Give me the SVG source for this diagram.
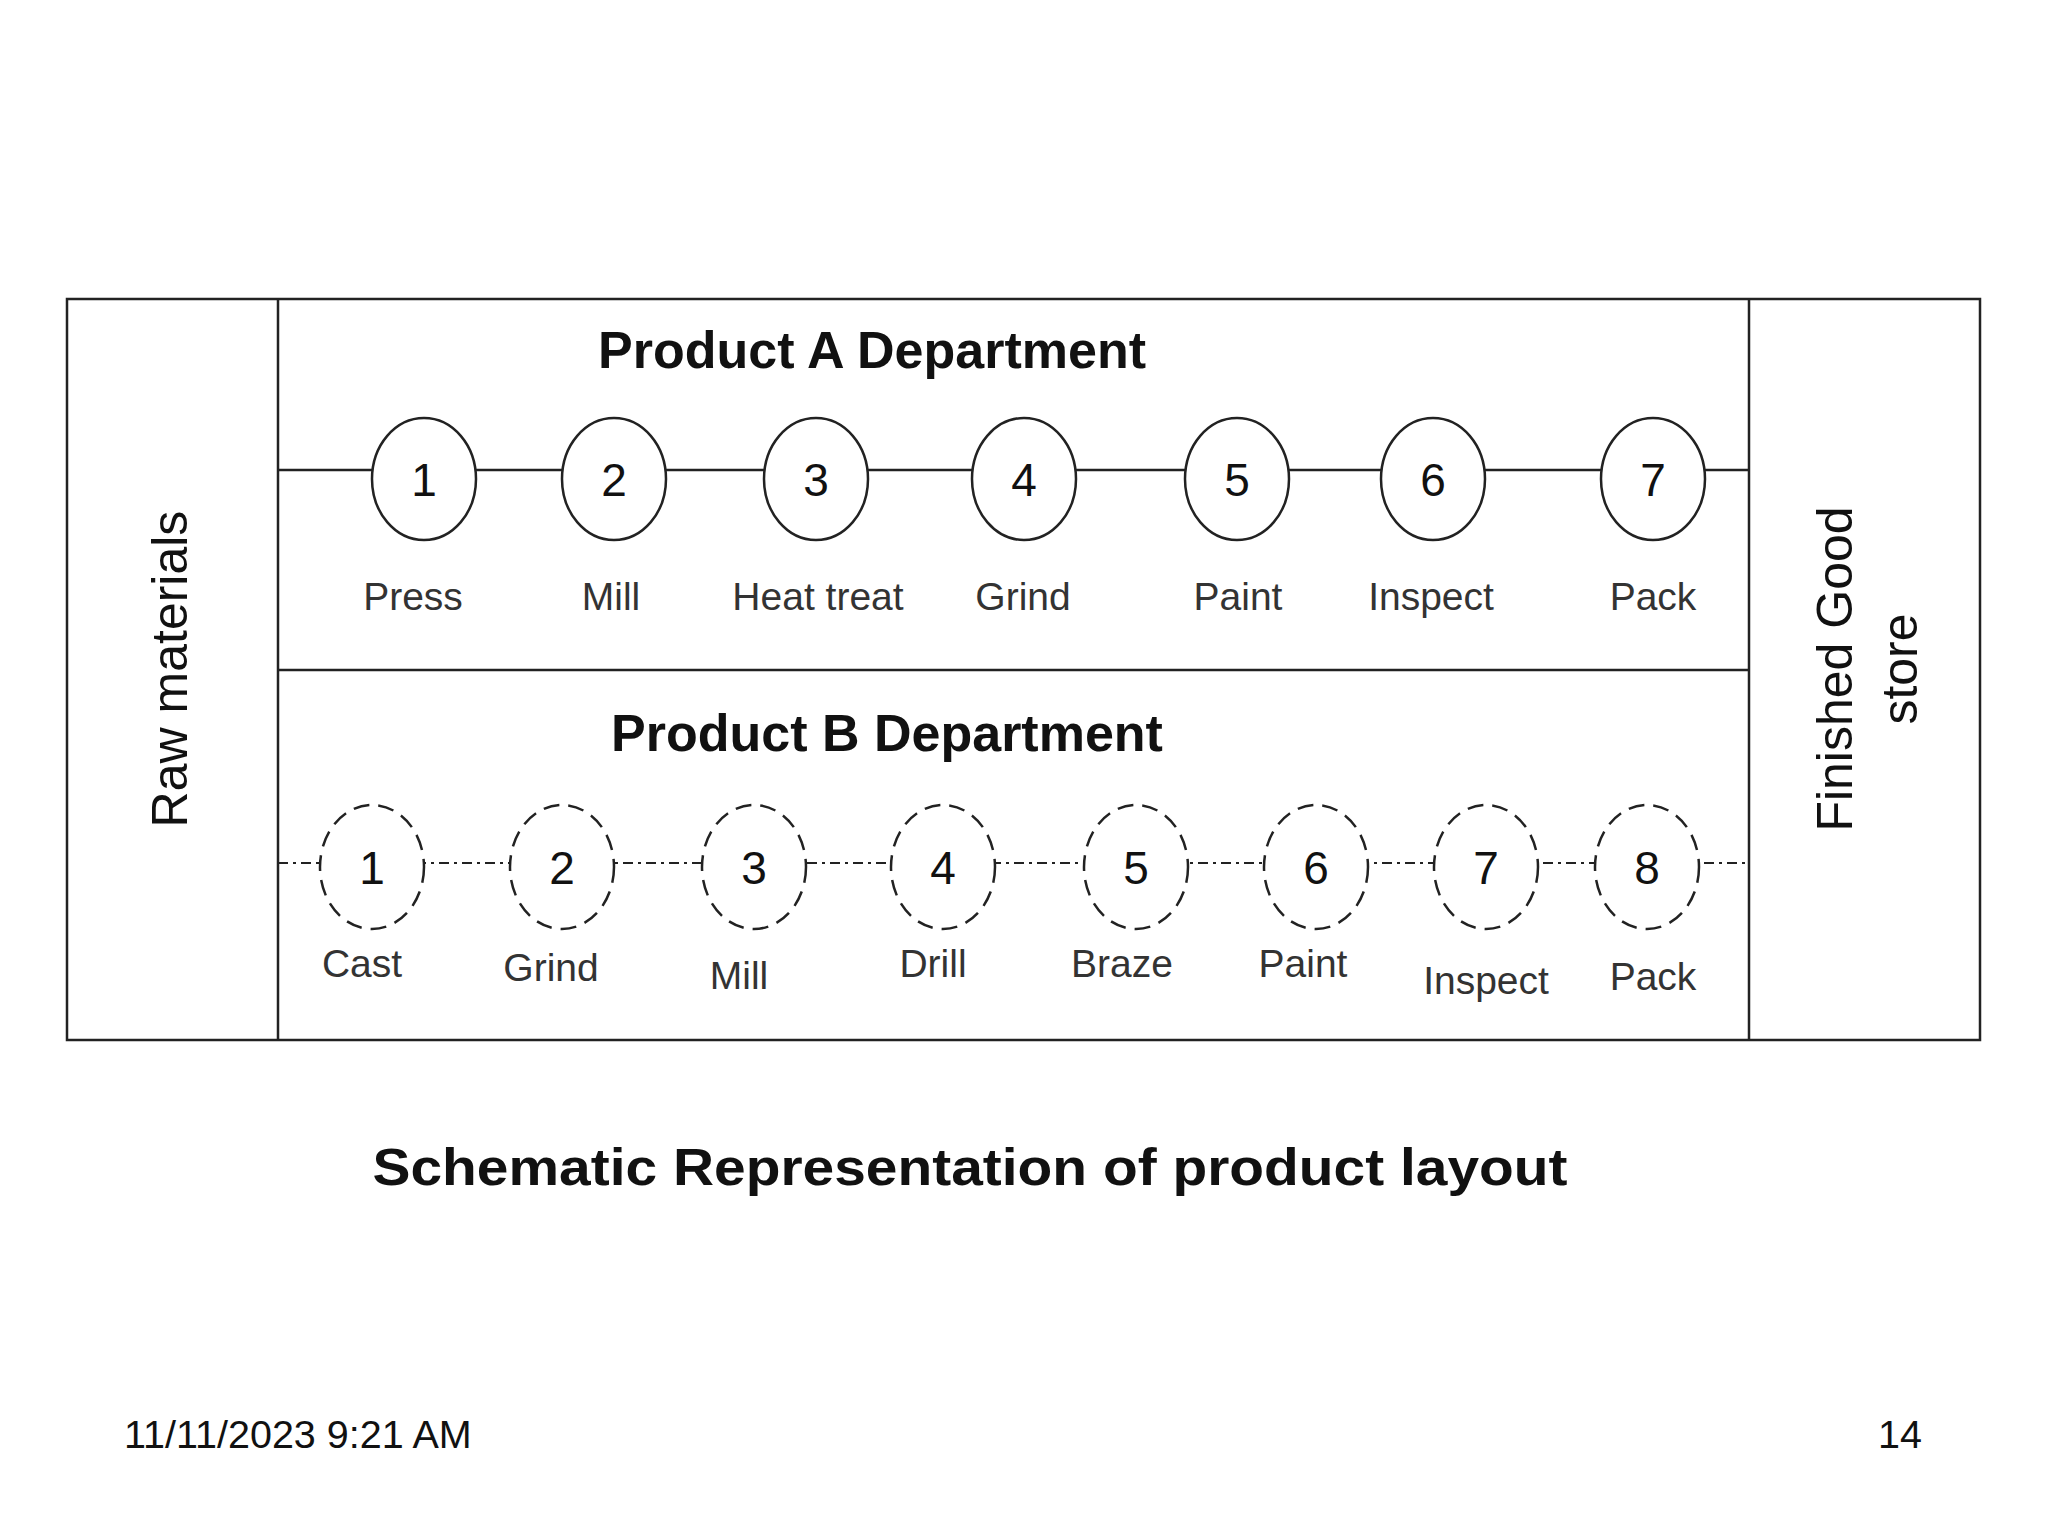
<svg xmlns="http://www.w3.org/2000/svg" width="2048" height="1536" viewBox="0 0 2048 1536">
<style>
text{font-family:"Liberation Sans",Arial,sans-serif;fill:#111}
.t{font-size:52px;font-weight:bold;text-anchor:middle}
.n{font-size:46px;text-anchor:middle}
.r{font-size:50px;text-anchor:middle}
.l{font-size:39px;text-anchor:middle;fill:#333}
.s{fill:#fff;stroke:#222;stroke-width:2.5}
.d{fill:#fff;stroke:#222;stroke-width:2.5;stroke-dasharray:16 9}
.line{stroke:#222;stroke-width:2.5;fill:none}
.dl{stroke:#222;stroke-width:2;fill:none;stroke-dasharray:10 5 3 5}
</style>
<rect width="2048" height="1536" fill="#fff"/>
<g id="frame" class="line">
<rect x="67" y="299" width="1913" height="741"/>
<line x1="278" y1="299" x2="278" y2="1040"/>
<line x1="1749" y1="299" x2="1749" y2="1040"/>
<line x1="278" y1="670" x2="1749" y2="670"/>
</g>
<g id="connectors">
<line class="line" x1="278" y1="470" x2="1749" y2="470"/>
<line class="dl" x1="278" y1="863" x2="1749" y2="863"/>
</g>
<text id="raw" class="r" transform="translate(187 669) rotate(-90)">Raw materials</text>
<g id="finished"><text class="r" transform="translate(1852 669) rotate(-90)">Finished Good</text><text class="r" transform="translate(1917 669) rotate(-90)">store</text></g>
<text id="titleA" class="t" x="872" y="368">Product A Department</text>
<text id="titleB" class="t" x="887" y="751">Product B Department</text>
<g id="a1"><ellipse class="s" cx="424" cy="479" rx="52" ry="61"/><text class="n" x="424" y="496">1</text><text class="l" x="413" y="610">Press</text></g>
<g id="a2"><ellipse class="s" cx="614" cy="479" rx="52" ry="61"/><text class="n" x="614" y="496">2</text><text class="l" x="611" y="610">Mill</text></g>
<g id="a3"><ellipse class="s" cx="816" cy="479" rx="52" ry="61"/><text class="n" x="816" y="496">3</text><text class="l" x="818" y="610">Heat treat</text></g>
<g id="a4"><ellipse class="s" cx="1024" cy="479" rx="52" ry="61"/><text class="n" x="1024" y="496">4</text><text class="l" x="1023" y="610">Grind</text></g>
<g id="a5"><ellipse class="s" cx="1237" cy="479" rx="52" ry="61"/><text class="n" x="1237" y="496">5</text><text class="l" x="1238" y="610">Paint</text></g>
<g id="a6"><ellipse class="s" cx="1433" cy="479" rx="52" ry="61"/><text class="n" x="1433" y="496">6</text><text class="l" x="1431" y="610">Inspect</text></g>
<g id="a7"><ellipse class="s" cx="1653" cy="479" rx="52" ry="61"/><text class="n" x="1653" y="496">7</text><text class="l" x="1653" y="610">Pack</text></g>
<g id="b1"><ellipse class="d" cx="372" cy="867" rx="52" ry="62"/><text class="n" x="372" y="884">1</text><text class="l" x="362" y="977">Cast</text></g>
<g id="b2"><ellipse class="d" cx="562" cy="867" rx="52" ry="62"/><text class="n" x="562" y="884">2</text><text class="l" x="551" y="981">Grind</text></g>
<g id="b3"><ellipse class="d" cx="754" cy="867" rx="52" ry="62"/><text class="n" x="754" y="884">3</text><text class="l" x="739" y="989">Mill</text></g>
<g id="b4"><ellipse class="d" cx="943" cy="867" rx="52" ry="62"/><text class="n" x="943" y="884">4</text><text class="l" x="933" y="977">Drill</text></g>
<g id="b5"><ellipse class="d" cx="1136" cy="867" rx="52" ry="62"/><text class="n" x="1136" y="884">5</text><text class="l" x="1122" y="977">Braze</text></g>
<g id="b6"><ellipse class="d" cx="1316" cy="867" rx="52" ry="62"/><text class="n" x="1316" y="884">6</text><text class="l" x="1303" y="977">Paint</text></g>
<g id="b7"><ellipse class="d" cx="1486" cy="867" rx="52" ry="62"/><text class="n" x="1486" y="884">7</text><text class="l" x="1486" y="994">Inspect</text></g>
<g id="b8"><ellipse class="d" cx="1647" cy="867" rx="52" ry="62"/><text class="n" x="1647" y="884">8</text><text class="l" x="1653" y="990">Pack</text></g>
<text id="caption" class="t" x="970" y="1185" font-size="58" textLength="1195" lengthAdjust="spacingAndGlyphs">Schematic Representation of product layout</text>
<text x="124" y="1448" font-size="39.5">11/11/2023 9:21 AM</text>
<text x="1922" y="1448" font-size="39.5" text-anchor="end">14</text>
</svg>
